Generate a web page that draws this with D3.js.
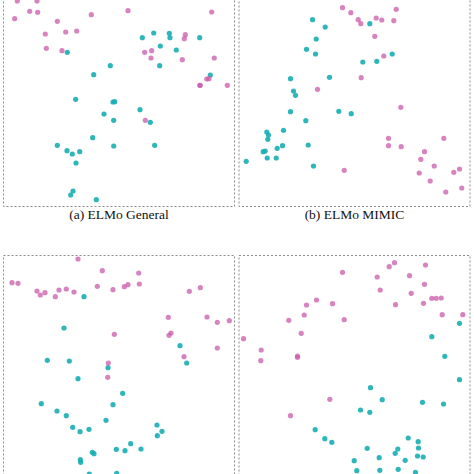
<!DOCTYPE html>
<html>
<head>
<meta charset="utf-8">
<script src="https://cdn.jsdelivr.net/npm/d3@7"></script>
<style>
html,body{margin:0;padding:0;background:#fff;}
svg{display:block;}
</style>
</head>
<body>
<svg id="chart" width="474" height="474"></svg>
<script>
// Panel titles
const panelTitles = ["(a) ELMo General", "(b) ELMo MIMIC", "", ""];
const classes = ["pink", "teal"];

// Panel (a) ELMo General
const aPinkX = [14.3,34,26.7,34.7,11.7,88.3,125,208.7,54.3,42.3,62.7,73.7,43.3,59,182.3,181.3,141.7,148.7,148,179.3,211.3,203.7,206,197,197,224.3,142.3];
const aPinkY = [206,206,195.7,194.7,188.3,192.3,196.3,195,185.7,173,175,176,158.7,156.3,172.3,168.3,154.7,156.3,149,147.3,149,128,128.3,121.7,121.7,121.7,86.7];
const aTealX = [64.3,139.3,150.7,166.3,167,196.7,157.3,173.3,156.7,207.3,107.3,90.7,72.7,110,111.7,101,110.7,137,147.3,89.7,54.3,110.7,151.7,64,69.3,76.7,73,70,67.7,93.3];
const aTealY = [154.7,169.3,174,173.7,169.3,169.3,161,157,141.3,132,141.3,132.3,107.7,105,105.3,93,86.7,97.3,84.7,69.3,61.7,61,61.7,56.3,53,55.3,44,16,12,7.3];

// Panel (b) ELMo MIMIC
const bPinkX = [104,112.3,119.7,122.3,137.7,143.3,157.7,155.3,136.3,145.3,122.7,79,162.3,150,150,162.7,205.3,186,182.3,195.7,180.7,191.7,215.3,221,207.3,223.3,105.7];
const bPinkY = [199.3,194.3,187.3,183.3,189,187,197.7,186.3,170.7,151,129.3,117.7,99.7,68.7,61.3,60.3,68.7,55.3,47.7,41,34,26,34.7,38,15,19,36.7];
const bTealX = [74,86.7,77.7,68,77,131.3,153.7,124.3,138.3,52,91,55,57,52,67.3,100.3,112.7,45,28.3,30,29.3,44,38.7,69.7,24.7,26.7,28.7,37.7,7.7,75];
const bTealY = [187.3,180,168,157.7,153,183.3,153,145,145.7,128.3,129.7,116,111.7,95.3,86.3,95.7,93.3,76.7,75,72,67.7,61.3,58.7,62,55.3,56,49,49,45.7,41];

// Panel (c)
const cPinkX = [75,99.3,135.7,9,15,34,37.3,42,52.3,56,63.3,71,94.3,110,121.3,125,136.3,186.3,197.3,165.3,204,214.3,226.3,111.3,168,166,214.3,181,105.3,104.7];
const cPinkY = [216,204.3,202,192.3,191.7,184,180,182.3,178.3,185,186,183,188.7,185.3,188.3,190.3,191,183.7,187.3,157.7,158,152.7,154.3,140.7,142,139.7,127,118.3,112,97.7];
const cTealX = [81,61,177,183.7,44.3,66.3,105,75,119.7,38.3,110,54,63.3,103,69.7,77,86,154,159,154.3,127.7,113.3,122,138,89.3,91,77.3,77.7,86.3,113.7];
const cTealY = [178.3,147,129.3,112,114.7,114,107.3,96.3,81.7,71.3,70.3,64,59.3,54.7,47.7,43.3,45.7,50,43.7,39.3,31.3,25.7,24.3,26,22.7,21.3,15.3,12.7,1,1.7];

// Panel (d)
const dPinkX = [104,150.7,156,187,138.7,171,186,141.7,172.7,157,185,193.3,197.7,202.7,203.7,224.3,78,68,94,65.7,50.3,105.7,62.7,5,22.7,22.3,59,59,91.3,52];
const dPinkY = [202.7,208.3,212.3,210,198,199.3,190.7,185,181.7,170.3,171.7,176.7,176.7,177,160.3,160.3,175,170,171.3,160,154.7,155.3,141.7,136.3,125,114.3,119,117.7,75.7,59.3];
const dTealX = [221,193.3,206.3,221,132,143.7,184,205,122,131.3,76.7,86.3,93.3,169.7,179.7,128.7,159.3,180,156.7,179,184.7,115.7,140.7,166.7,118.3,141.3,159.7,177];
const dTealY = [151.7,138.3,118.7,95.3,87.3,75.3,72.7,71,65,62.7,45.3,36.3,32.7,37,33.3,26.7,26,27,21.7,19,18,14.3,17.3,14.7,4.3,4.7,5.7,2.7];

const panelsData = [
  {pinkX: aPinkX, pinkY: aPinkY, tealX: aTealX, tealY: aTealY},
  {pinkX: bPinkX, pinkY: bPinkY, tealX: bTealX, tealY: bTealY},
  {pinkX: cPinkX, pinkY: cPinkY, tealX: cTealX, tealY: cTealY},
  {pinkX: dPinkX, pinkY: dPinkY, tealX: dTealX, tealY: dTealY}
];

const colors = {pink: "#c95aaa", teal: "#17aeb4"};

const svg = d3.select("#chart");
const W = 232, H = 220;
// panel frames (left, bottom)
const frames = [
  {left: 3, bottom: 207},
  {left: 238.5, bottom: 207},
  {left: 3, bottom: 475},
  {left: 238.5, bottom: 475}
];

frames.forEach((f, i) => {
  const x = d3.scaleLinear().domain([0, W]).range([f.left, f.left + W]);
  const y = d3.scaleLinear().domain([0, H]).range([f.bottom, f.bottom - H]);
  const g = svg.append("g");
  g.append("rect")
    .attr("x", x(0) + 0.5).attr("y", y(H) + 0.5)
    .attr("width", x(W) - x(0) - 1).attr("height", y(0) - y(H) - 1)
    .attr("fill", "none").attr("stroke", "#8a8a8a")
    .attr("stroke-width", 1).attr("stroke-dasharray", "2,2");
  const d = panelsData[i];
  const pts = [];
  d.tealX.forEach((v, k) => pts.push({c: "teal", x: v, y: d.tealY[k]}));
  d.pinkX.forEach((v, k) => pts.push({c: "pink", x: v, y: d.pinkY[k]}));
  g.selectAll("circle").data(pts).join("circle")
    .attr("cx", p => x(p.x)).attr("cy", p => y(p.y)).attr("r", 2.6)
    .attr("fill", p => colors[p.c]).attr("fill-opacity", p => p.c === "pink" ? 0.75 : 0.9);
  if (panelTitles[i]) {
    g.append("text")
      .attr("x", x(W / 2)).attr("y", f.bottom + 12)
      .attr("text-anchor", "middle")
      .attr("font-family", "'Liberation Serif', 'Times New Roman', serif")
      .attr("font-size", 13.5).attr("fill", "#111")
      .text(panelTitles[i]);
  }
});
</script>
</body>
</html>
